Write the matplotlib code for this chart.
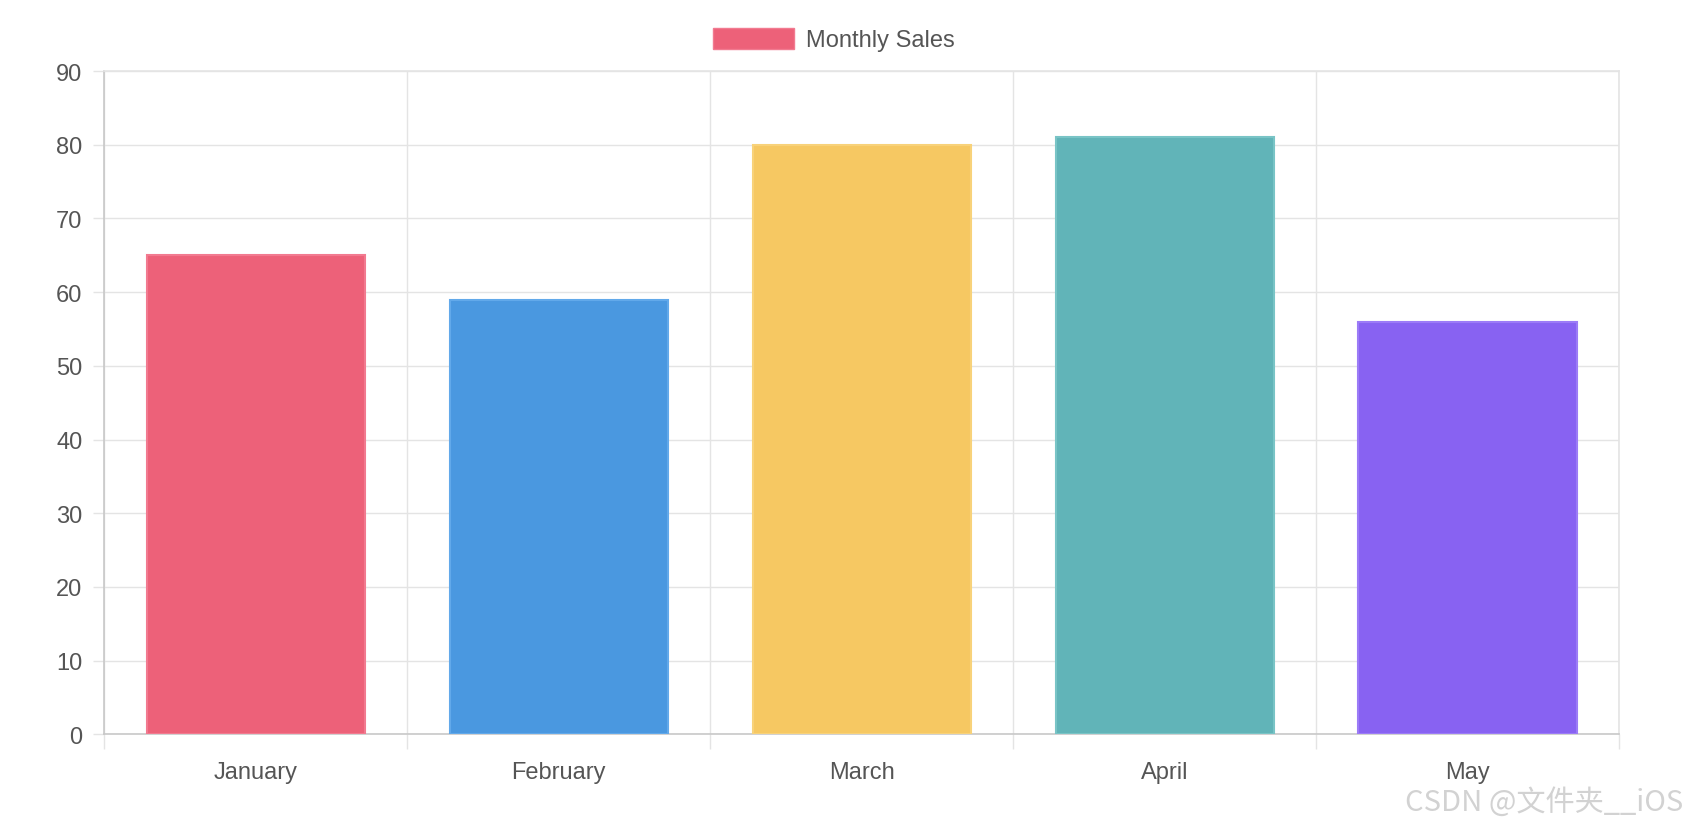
import numpy as np
import matplotlib
matplotlib.use("Agg")
import matplotlib.pyplot as plt

months = ["January", "February", "March", "April", "May"]
sales = [65, 59, 80, 81, 56]
fill_colors = ["#ED6179", "#4A98E0", "#F6C862", "#61B4B8", "#8862F2"]
edge_colors = ["#F27A90", "#62A9EA", "#F8D27A", "#79C4C6", "#9C7BF7"]
y_ticks = list(range(0, 100, 10))

plt.rcParams["font.family"] = ["Liberation Sans", "DejaVu Sans"]

fig = plt.figure(figsize=(16.88, 8.28), dpi=100)
ax = fig.add_axes([0.0619, 0.1120, 0.8972, 0.8009])

x = np.arange(len(months))
ax.bar(x, sales, width=0.72, color=fill_colors, edgecolor=edge_colors,
       linewidth=1.5, zorder=3, label="Monthly Sales")

ax.set_xlim(-0.5, len(months) - 0.5)
ax.set_ylim(0, 90)

grid_c = "#e4e4e4"
axis_c = "#c8c8c8"

# gridlines sit between categories (chart.js offset style)
ax.set_xticks(np.arange(-0.5, len(months), 1.0))
ax.set_xticklabels([])
ax.set_xticks(x, minor=True)
ax.set_xticklabels(months, minor=True)
ax.tick_params(axis="x", which="major", length=11, width=1, color=grid_c)
ax.tick_params(axis="x", which="minor", length=0, pad=19, labelsize=17,
               labelcolor="#555555")
ax.set_yticks(y_ticks)
ax.tick_params(axis="y", length=8, width=1, color=grid_c, pad=8,
               labelsize=17, labelcolor="#555555")

ax.grid(True, which="major", color=grid_c, linewidth=1, zorder=0)
ax.set_axisbelow(True)

ax.spines["left"].set_color(axis_c)
ax.spines["bottom"].set_color(axis_c)
ax.spines["top"].set_color(grid_c)
ax.spines["right"].set_color(grid_c)
for s in ax.spines.values():
    s.set_linewidth(1.2)

leg = fig.legend(handles=[plt.Rectangle((0, 0), 1, 1, facecolor=fill_colors[0],
                                        edgecolor=edge_colors[0])],
                 labels=["Monthly Sales"], loc="center",
                 bbox_to_anchor=(0.494, 0.951), frameon=False, fontsize=17,
                 handlelength=3.43, handleheight=1.02, handletextpad=0.5,
                 borderpad=0)
for t in leg.get_texts():
    t.set_color("#555555")

fig.text(0.997, 0.030, "CSDN @文件夹__iOS", ha="right", va="center",
         fontsize=21, color="#d2d2d2",
         family=["Noto Sans CJK SC", "DejaVu Sans"])

fig.savefig("out.png", dpi=100)
